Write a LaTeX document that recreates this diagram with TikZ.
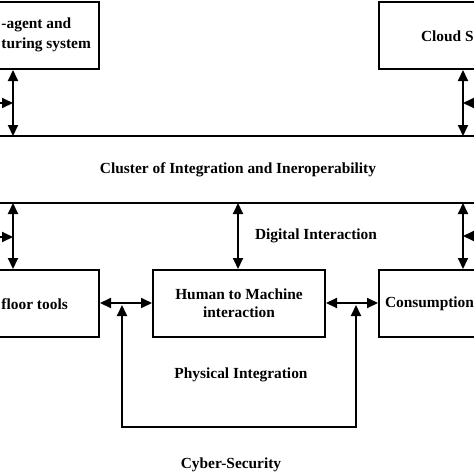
\documentclass[tikz,border=0pt]{standalone}
\usepackage{fontspec}
\setmainfont{Liberation Serif}
\usetikzlibrary{arrows.meta}
\begin{document}
\begin{tikzpicture}[x=1pt,y=-1pt,
  line width=2pt,
  txt/.style={inner sep=0pt,font=\fontsize{15.4}{18}\selectfont\bfseries},
  box/.style={draw,minimum width=#1,inner sep=0pt,minimum height=67pt},
  arr/.style={-{Triangle[length=11pt,width=10pt]}},
  darr/.style={{Triangle[length=11pt,width=10pt]}-{Triangle[length=11pt,width=10pt]}}]
\useasboundingbox (0,0) rectangle (474,474);
\clip (0,0) rectangle (474,474);
% boxes
\node[box=120pt] (mas) at (39,35.5) {};
\node[box=120pt] (cloud) at (439,35.5) {};
\node[box=120pt] (floor) at (39,303.5) {};
\node[box=172pt] (hmi) at (239,303.5) {};
\node[box=120pt] (cons) at (439,303.5) {};
% box texts
\node[txt,anchor=west] (t1) at (0.5,25) {-agent and};
\node[txt,anchor=west] (t2) at (0.5,45) {turing system};
\node[txt,anchor=west] (t3) at (420,36) {Cloud S};
\node[txt,anchor=west] (t4) at (0.5,304) {floor tools};
\node[txt,align=center] (t5) at (239,303) {Human to Machine\\interaction};
\node[txt,anchor=west] (t6) at (384,304) {Consumption};
% bus lines
\coordinate (b1l) at (0,136); \coordinate (b1r) at (474,136);
\coordinate (b2l) at (0,203); \coordinate (b2r) at (474,203);
\draw (b1l) -- (b1r);
\draw (b2l) -- (b2r);
\node[txt] (cluster) at (238,170) {Cluster of Integration and Ineroperability};
% vertical arrows top
\coordinate (v1a) at (13,136); \coordinate (v1b) at (463,136);
\draw[darr] (mas.south -| v1a) -- (v1a);
\draw[darr] (cloud.south -| v1b) -- (v1b);
\coordinate (h1l) at (0,103); \coordinate (h1la) at (13,103);
\coordinate (h1r) at (474,103); \coordinate (h1ra) at (463,103);
\draw[arr] (h1l) -- (h1la);
\draw[arr] (h1r) -- (h1ra);
% vertical arrows lower
\coordinate (v2a) at (13,203); \coordinate (v2b) at (463,203); \coordinate (v2c) at (238,203);
\draw[darr] (v2a) -- (floor.north -| v2a);
\draw[darr] (v2c) -- (hmi.north -| v2c);
\draw[darr] (v2b) -- (cons.north -| v2b);
\coordinate (h2l) at (0,237); \coordinate (h2la) at (13,237);
\coordinate (h2r) at (474,236); \coordinate (h2ra) at (463,236);
\draw[arr] (h2l) -- (h2la);
\draw[arr] (h2r) -- (h2ra);
\node[txt] (digital) at (316,236) {Digital Interaction};
% horizontal double arrows between boxes
\draw[darr] (floor.east |- 0,303) -- (hmi.west |- 0,303);
\draw[darr] (hmi.east |- 0,303) -- (cons.west |- 0,303);
% physical integration loop
\coordinate (p1) at (122,305); \coordinate (p2) at (122,427);
\coordinate (p3) at (356,427); \coordinate (p4) at (356,305);
\draw[darr] (p1) -- (p2) -- (p3) -- (p4);
\node[txt] (phys) at (241,375) {Physical Integration};
\node[txt] (cyber) at (231,465) {Cyber-Security};
\end{tikzpicture}
\end{document}
